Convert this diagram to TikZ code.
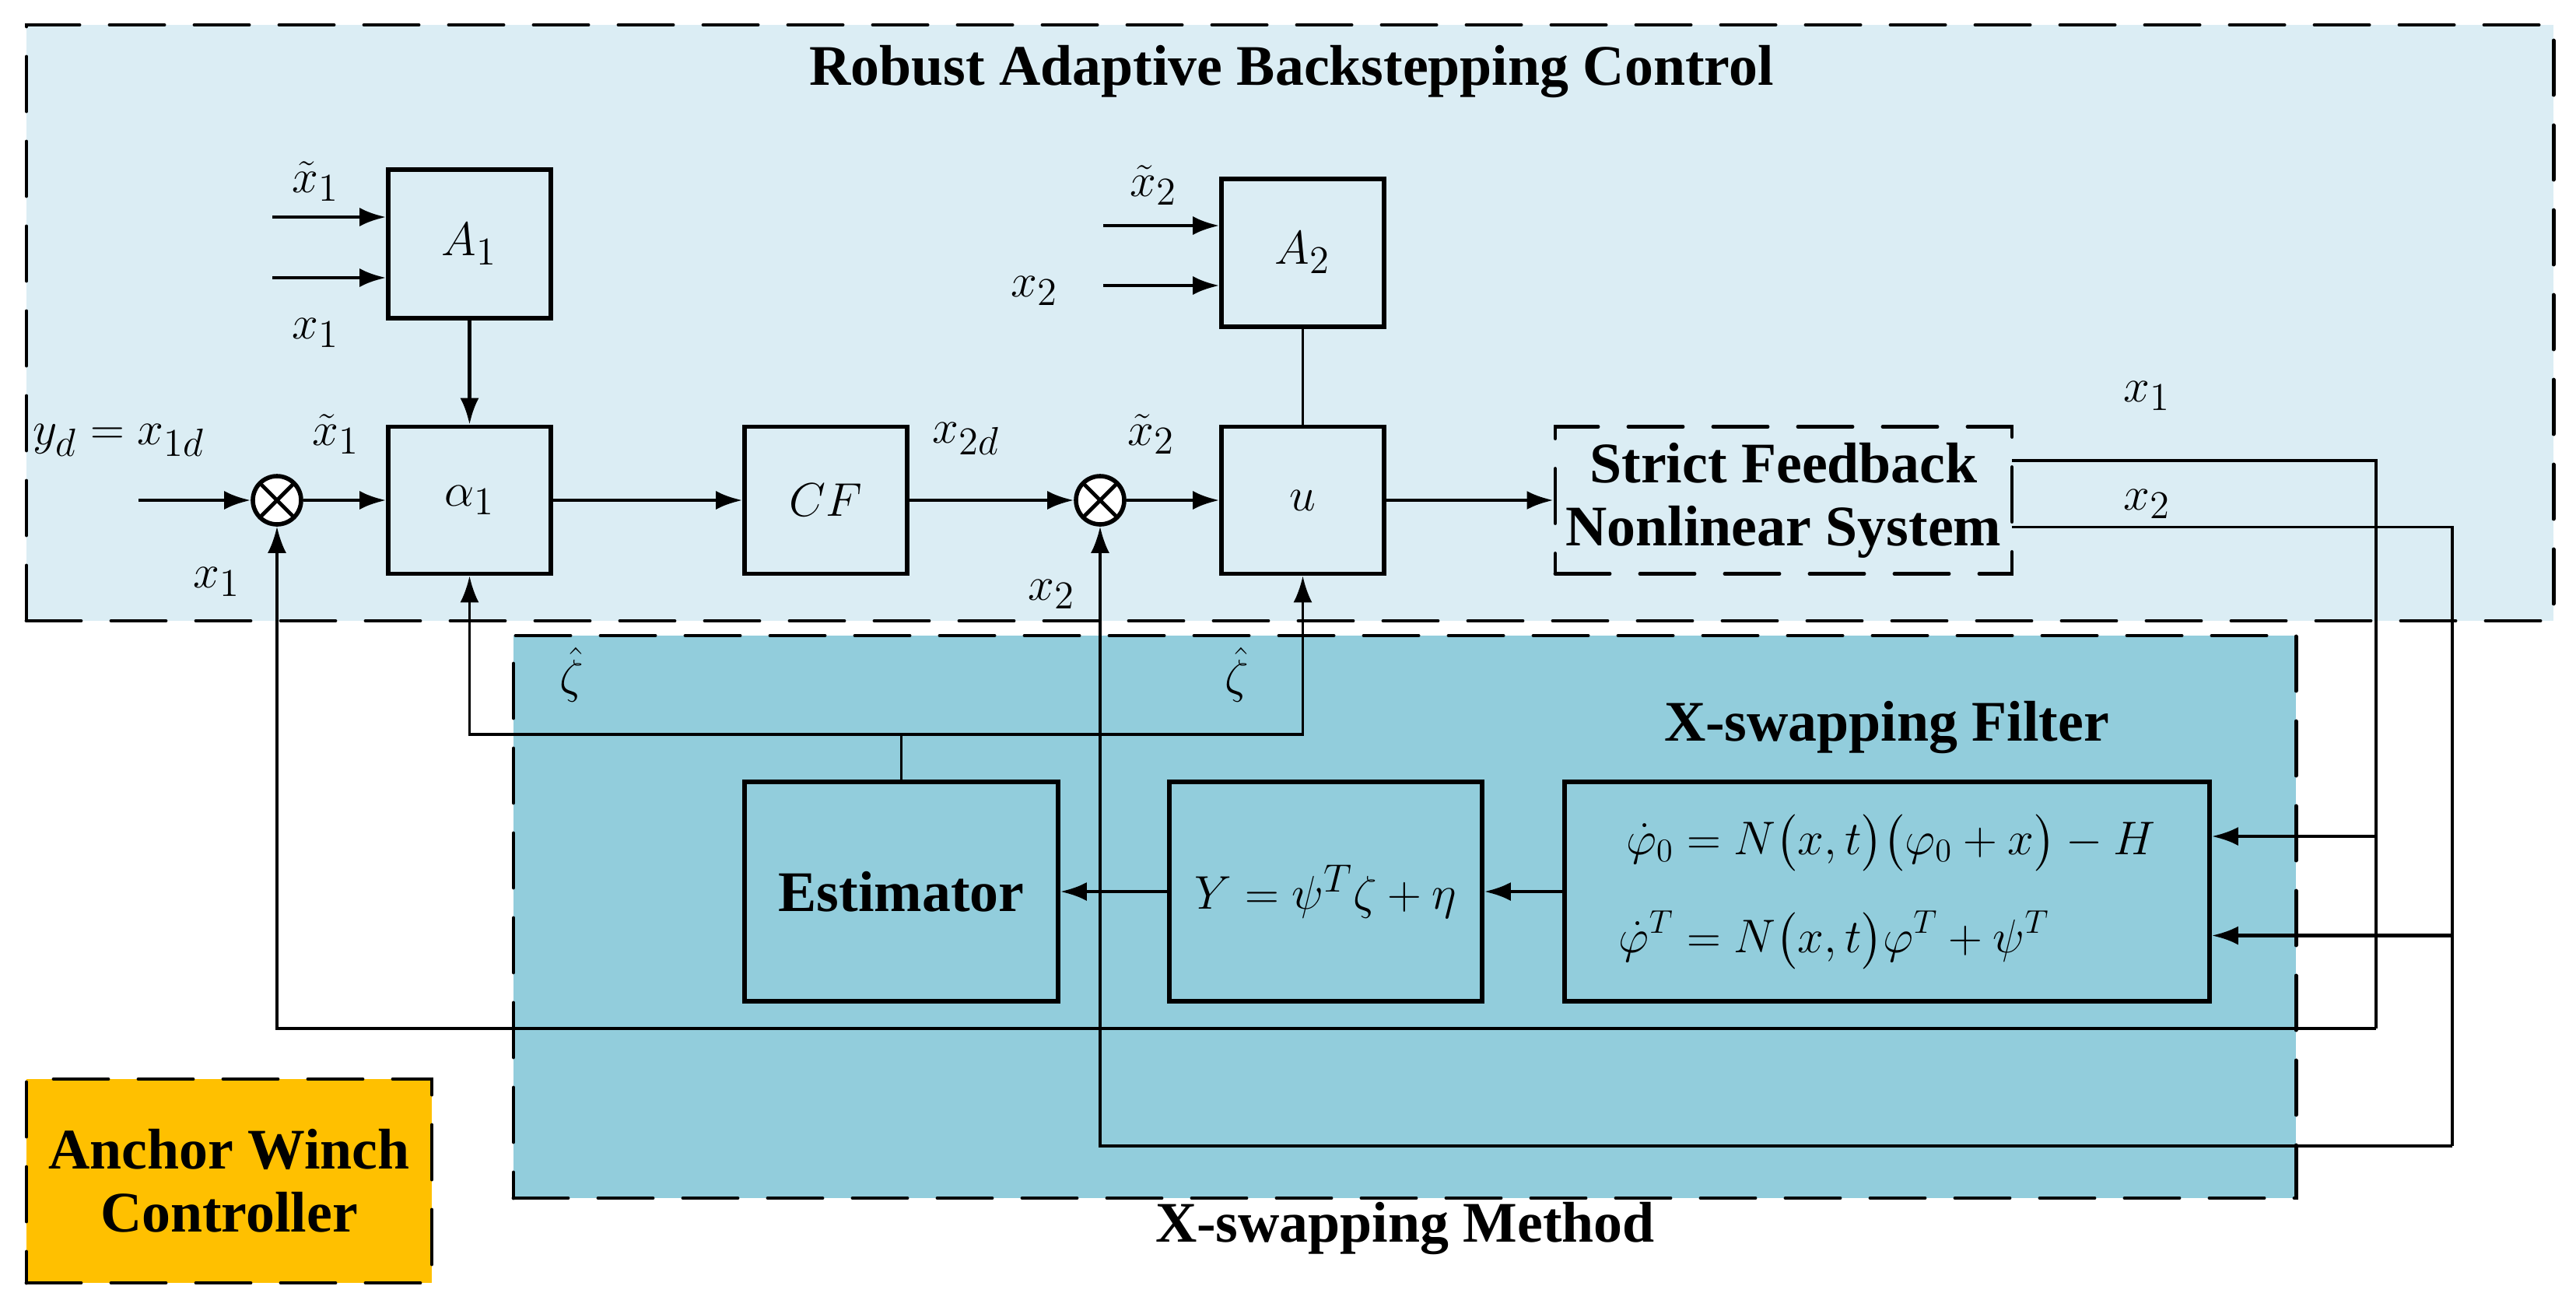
\documentclass[tikz,border=0pt]{standalone}
\usepackage{amsmath}
\usepackage{fontspec}
\setmainfont{Liberation Serif}
\usepackage{tikz}
\usetikzlibrary{arrows.meta,positioning}
\definecolor{ctrlblue}{RGB}{219,237,244}
\definecolor{swapblue}{RGB}{146,205,220}
\definecolor{winchorange}{RGB}{255,192,0}

\begin{document}
\begin{tikzpicture}[
    >={Latex[length=3.4mm,width=2.4mm]},
    font=\fontsize{19}{23}\selectfont,
    heading/.style={font=\fontsize{21}{25}\selectfont\bfseries},
    region/.style={
        draw,
        line width=1.4pt,
        line cap=round,
        dash pattern=on 0.70cm off 0.39cm,
        inner sep=0pt
    },
    block/.style={
        rectangle,
        draw=black,
        line width=1.6pt,
        minimum width=2.09cm,
        minimum height=1.89cm,
        inner sep=0pt,
        align=center
    },
    sumjoint/.style={
        circle,
        draw=black,
        fill=white,
        line width=1.6pt,
        minimum size=0.62cm,
        inner sep=0pt,
        path picture={
            \draw[line width=1.4pt]
                (path picture bounding box.north west) -- (path picture bounding box.south east)
                (path picture bounding box.north east) -- (path picture bounding box.south west);
        }
    },
    sig/.style={->, line width=1.4pt},
    fb/.style={line width=1.1pt}
]
\useasboundingbox (0,0) rectangle (33.11,-16.79);

% Regions
\node[region, fill=ctrlblue, minimum width=32.48cm, minimum height=7.66cm] (rabc) at (16.58,-4.15) {};
\node[region, fill=swapblue, minimum width=22.91cm, minimum height=7.23cm] (xswap) at (18.055,-11.785) {};
\node[region, fill=winchorange, minimum width=5.21cm, minimum height=2.62cm, heading, align=center] (winch) at (2.945,-15.18) {Anchor Winch\\[-2pt]Controller};

% Titles
\node[heading] (title) at (16.6,-0.92) {Robust Adaptive Backstepping Control};
\node[heading] (filtlab) at (24.25,-9.35) {X-swapping Filter};
\node[heading] (methodlab) at (18.06,-15.79) {X-swapping Method};

% Control loop blocks
\node[sumjoint] (sum1) at (3.56,-6.43) {};
\node[block] (alpha1) at (6.035,-6.43) {$\alpha_1$};
\node[block] (cf) at (10.615,-6.43) {$CF$};
\node[sumjoint] (sum2) at (14.14,-6.43) {};
\node[block] (u) at (16.745,-6.43) {$u$};
\node[block, region, minimum width=5.87cm, heading] (plant) at (22.925,-6.43) {Strict Feedback\\[-2pt]Nonlinear System};
\node[block, minimum height=1.91cm] (A1) at (6.035,-3.135) {$A_1$};
\node[block, minimum height=1.90cm] (A2) at (16.745,-3.25) {$A_2$};

% X-swapping blocks
\node[block, minimum width=4.03cm, minimum height=2.82cm, heading] (est) at (11.585,-11.46) {Estimator};
\node[block, minimum width=4.02cm, minimum height=2.82cm] (ymodel) at (17.04,-11.46) {$Y=\psi^T\zeta+\eta$};
\node[block, minimum width=8.29cm, minimum height=2.82cm, font=\fontsize{18.5}{22}\selectfont] (filter) at (24.255,-11.46)
    {$\begin{aligned}\dot{\varphi}_0 &= N\bigl(x,t\bigr)\bigl(\varphi_0+x\bigr)-H\\[11pt]
      \dot{\varphi}^T &= N\bigl(x,t\bigr)\varphi^T+\psi^T\end{aligned}$};

% Free ends and corners
\coordinate (yin) at (1.78,-6.43);
\coordinate (a1in1) at (3.50,-2.79);
\coordinate (a1in2) at (3.50,-3.57);
\coordinate (a2in1) at (14.18,-2.90);
\coordinate (a2in2) at (14.18,-3.67);
\coordinate (x1out) at (25.86,-5.92);
\coordinate (x2out) at (25.86,-6.775);
\coordinate (x1bot) at (30.54,-13.22);
\coordinate (x2bot) at (31.52,-14.73);
\coordinate (x1tap) at (30.54,-10.75);
\coordinate (x2tap) at (31.52,-12.025);
\coordinate (zetabus) at (11.585,-9.44);

% Forward path
\draw[sig] (yin) -- (sum1);
\draw[sig] (sum1) -- (alpha1);
\draw[sig] (alpha1) -- (cf);
\draw[sig] (cf) -- (sum2);
\draw[sig] (sum2) -- (u);
\draw[sig] (u) -- (plant);
\draw[sig] (A1) -- (alpha1);
\draw[line width=0.7pt] (A2) -- (u);
\draw[sig] (a1in1) -- (a1in1 -| A1.west);
\draw[sig] (a1in2) -- (a1in2 -| A1.west);
\draw[sig] (a2in1) -- (a2in1 -| A2.west);
\draw[sig] (a2in2) -- (a2in2 -| A2.west);

% Feedback
\draw[fb] (x1out) -| (x1bot);
\draw[fb, ->] (x1bot) -| (sum1.south);
\draw[fb] (x2out) -| (x2bot);
\draw[fb, ->] (x2bot) -| (sum2.south);
\draw[sig] (x1tap) -- (x1tap -| filter.east);
\draw[sig] (x2tap) -- (x2tap -| filter.east);
\draw[sig] (filter) -- (ymodel);
\draw[sig] (ymodel) -- (est);
\draw[fb] (est.north) -- (zetabus);
\draw[fb, ->] (zetabus) -| (alpha1.south);
\draw[fb, ->] (zetabus) -| (u.south);

% Signal labels
\node (ydlab) at (1.53,-5.66) {$y_d=x_{1d}$};
\node (e1lab) at (4.32,-5.58) {$\tilde{x}_1$};
\node (x1lab) at (2.79,-7.48) {$x_1$};
\node (e1Alab) at (4.06,-2.33) {$\tilde{x}_1$};
\node (x1Alab) at (4.06,-4.28) {$x_1$};
\node (x2dlab) at (12.42,-5.64) {$x_{2d}$};
\node (e2lab) at (14.80,-5.58) {$\tilde{x}_2$};
\node (x2lab) at (13.52,-7.64) {$x_2$};
\node (e2Alab) at (14.83,-2.38) {$\tilde{x}_2$};
\node (x2Alab) at (13.30,-3.74) {$x_2$};
\node (x1outlab) at (27.60,-5.09) {$x_1$};
\node (x2outlab) at (27.60,-6.48) {$x_2$};
\node (zlab1) at (7.35,-8.67) {$\hat{\zeta}$};
\node (zlab2) at (15.90,-8.67) {$\hat{\zeta}$};

\end{tikzpicture}
\end{document}
